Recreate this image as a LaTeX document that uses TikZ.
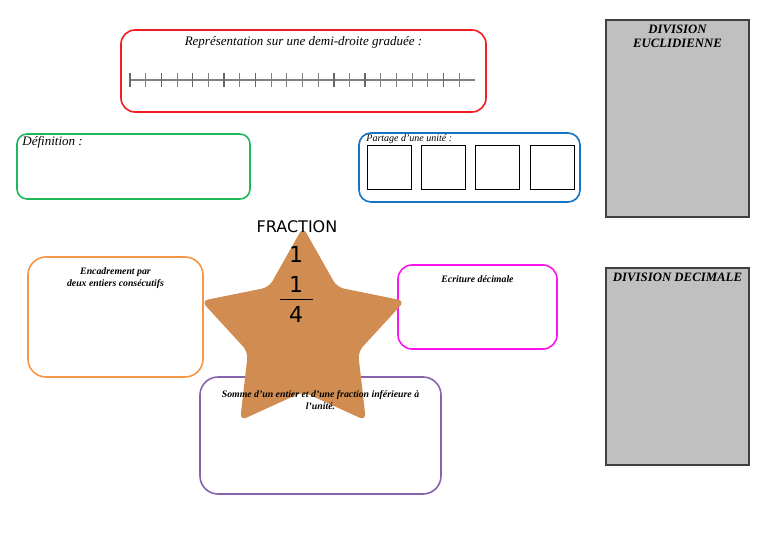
\documentclass[tikz,border=0pt]{standalone}
\usepackage{fontspec}
\setmainfont{Liberation Serif}
\setsansfont{DejaVu Sans}
\usepackage{xcolor}
\usetikzlibrary{
    shapes.geometric,
    positioning
}
\definecolor{starbrown}{RGB}{209,140,82}
\definecolor{cardred}{RGB}{240,30,35}
\definecolor{cardgreen}{RGB}{30,185,90}
\definecolor{cardblue}{RGB}{20,115,195}
\definecolor{cardorange}{RGB}{247,150,70}
\definecolor{cardpink}{RGB}{250,20,240}
\definecolor{cardpurple}{RGB}{135,100,170}
\definecolor{panelgray}{RGB}{192,192,192}

\begin{document}
\begin{tikzpicture}[
    x=1pt, y=-1pt,
    card/.style={
        rectangle,
        rounded corners=14pt,
        line width=1.6pt,
        inner sep=0pt
    },
    panel/.style={
        rectangle,
        draw=black!75,
        line width=1.2pt,
        fill=panelgray,
        minimum width=143pt,
        minimum height=197pt,
        inner sep=0pt
    },
    cell/.style={
        rectangle,
        draw=black,
        line width=1pt,
        minimum size=44pt,
        inner sep=0pt
    },
    cardtitle/.style={
        font=\itshape\fontsize{13}{15}\selectfont,
        inner sep=0pt
    },
    boldtitle/.style={
        font=\bfseries\itshape\fontsize{9.8}{12.5}\selectfont,
        align=center,
        inner sep=0pt
    },
    paneltitle/.style={
        font=\bfseries\itshape\fontsize{12.8}{14}\selectfont,
        align=center,
        inner sep=0pt
    },
    digit/.style={
        font=\sffamily\fontsize{22}{24}\selectfont,
        inner sep=0pt
    }
]
\useasboundingbox (0,0) rectangle (768,543);

% Demi-droite graduee
\node[card, draw=cardred, minimum width=365pt, minimum height=82pt] (repr) at (303.5,71) {};
\node[cardtitle, below=7pt of repr.north] (reprtitle) {Représentation sur une demi-droite graduée~:};
\draw[gray, line width=1.8pt] (130,80) -- (475,80);
\foreach \k in {0,...,21}
    \draw[gray, line width=1pt] (130+\k*15.67,73) -- ++(0,14);
\foreach \k in {0,2,4,6,8,13,15,20}
    \draw[black!60, line width=1.6pt] (130+\k*15.67,73) -- ++(0,14);

% Definition
\node[card, rounded corners=10pt, draw=cardgreen, minimum width=233pt, minimum height=65pt] (def) at (133.5,166.5) {};
\node[cardtitle, below right=3pt and 6pt of def.north west] (deftitle) {Définition~:};

% Partage d'une unite
\node[card, rounded corners=12pt, draw=cardblue, minimum width=221pt, minimum height=69pt] (part) at (469.5,167.5) {};
\node[cardtitle, font=\itshape\fontsize{10}{12}\selectfont, below right=2pt and 8pt of part.north west] (parttitle) {Partage d'une unité~:};
\node[cell] (c1) at (389,167) {};
\node[cell] (c2) at (443,167) {};
\node[cell] (c3) at (497.5,167) {};
\node[cell] (c4) at (552,167) {};

% Encadrement
\node[card, rounded corners=18pt, draw=cardorange, minimum width=175pt, minimum height=120pt] (enc) at (115.5,317) {};
\node[boldtitle, below=11pt of enc.north] (enctitle) {Encadrement par\\deux entiers consécutifs};

% Ecriture decimale
\node[card, draw=cardpink, minimum width=159pt, minimum height=84pt] (ecr) at (477.5,307) {};
\node[boldtitle, below=11pt of ecr.north] (ecrtitle) {Ecriture décimale};

% Somme
\node[card, rounded corners=18pt, draw=cardpurple, minimum width=241pt, minimum height=117pt] (somme) at (320.5,435.5) {};

% Etoile
\node[star, star points=5, star point ratio=1.85, minimum size=214pt, inner sep=0pt,
      fill=starbrown, rounded corners=7pt] (star) at (303,334) {};
\node[boldtitle, below=14pt of somme.north] (sommetitle) {Somme d'un entier et d'une fraction inférieure à\\l'unité.};

% Fraction
\node[font=\sffamily\fontsize{16}{18}\selectfont, inner sep=0pt] (frac) at (297,227) {FRACTION};
\node[digit] (whole) at (296,254) {1};
\node[digit] (num) at (296,284) {1};
\node[digit] (den) at (296,314) {4};
\draw[black, line width=0.9pt] (280,299) -- (313,299);

% Divisions
\node[panel] (eucl) at (677.5,118.5) {};
\node[paneltitle, below=5pt of eucl.north] (eucltitle) {DIVISION\\EUCLIDIENNE};
\node[panel] (deci) at (677.5,366.5) {};
\node[paneltitle, below=5pt of deci.north] (decititle) {DIVISION DECIMALE};
\end{tikzpicture}
\end{document}
